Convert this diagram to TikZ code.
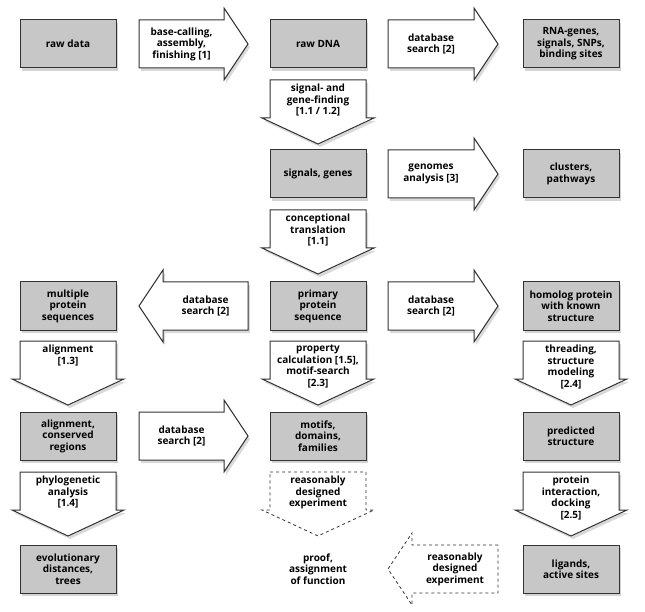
\documentclass[tikz,border=0pt]{standalone}
\usepackage{fontspec}
\setmainfont{Open Sans}
\usetikzlibrary{shadows}
\tikzset{
  box/.style={draw=black!80,line width=1pt,fill=black!22,minimum width=96pt,minimum height=48pt,
    align=center,font=\fontsize{10}{11.5}\selectfont\bfseries,
    drop shadow={opacity=0.35,shadow xshift=2pt,shadow yshift=-3pt}},
  arr/.style={draw=black!80,line width=1pt,fill=white,line join=miter,
    drop shadow={opacity=0.3,shadow xshift=2pt,shadow yshift=-3pt}},
  dasharr/.style={draw=black!80,line width=0.8pt,dashed,fill=white},
  lbl/.style={align=center,font=\fontsize{10}{11.5}\selectfont\bfseries,inner sep=0pt},
}
% right arrow: from x1 to tip x2 at height y
\newcommand{\rarr}[6]{%
  \path[#5] (#1,#3-24) -- (#2-24,#3-24) -- (#2-24,#3-36) -- (#2,#3) -- (#2-24,#3+36)
    -- (#2-24,#3+24) -- (#1,#3+24) -- cycle;
  \node[lbl] (#6) at ({(#1+#2-24)/2},#3) {#4};}
% left arrow: tip at x1, tail at x2
\newcommand{\larr}[6]{%
  \path[#5] (#2,#3-24) -- (#1+24,#3-24) -- (#1+24,#3-36) -- (#1,#3) -- (#1+24,#3+36)
    -- (#1+24,#3+24) -- (#2,#3+24) -- cycle;
  \node[lbl] (#6) at ({(#1+24+#2)/2},#3) {#4};}
% down arrow: column centre x, top y1, tip y2
\newcommand{\darr}[6]{%
  \path[#5] (#1-48,#2) -- (#1+48,#2) -- (#1+48,#3-26) -- (#1+56,#3-26) -- (#1,#3)
    -- (#1-56,#3-26) -- (#1-48,#3-26) -- cycle;
  \node[lbl,anchor=north] (#6) at (#1,#2+4) {#4};}
\begin{document}
\begin{tikzpicture}[x=1pt,y=-1pt]
\useasboundingbox (0,0) rectangle (645,612);
% boxes
\node[box] (rawdata) at (68,44) {raw data};
\node[box] (rawdna) at (318,44) {raw DNA};
\node[box] (rnagenes) at (571,44) {RNA-genes,\\signals, SNPs,\\binding sites};
\node[box] (signals) at (318,174) {signals, genes};
\node[box] (clusters) at (571,174) {clusters,\\pathways};
\node[box] (multiple) at (68,306) {multiple\\protein\\sequences};
\node[box] (primary) at (318,306) {primary\\protein\\sequence};
\node[box] (homolog) at (571,306) {homolog protein\\with known\\structure};
\node[box] (alignment) at (68,436) {alignment,\\conserved\\regions};
\node[box] (motifs) at (318,436) {motifs,\\domains,\\families};
\node[box] (predicted) at (571,436) {predicted\\structure};
\node[box] (evol) at (68,569) {evolutionary\\distances,\\trees};
\node[lbl] (proof) at (318,569) {proof,\\assignment\\of function};
\node[box] (ligands) at (571,569) {ligands,\\active sites};
% horizontal arrows
\rarr{139}{248}{44}{base-calling,\\assembly,\\finishing [1]}{arr}{a1}
\rarr{388}{498}{44}{database\\search [2]}{arr}{a2}
\rarr{388}{498}{174}{genomes\\analysis [3]}{arr}{a3}
\larr{139}{248}{306}{database\\search [2]}{arr}{a4}
\rarr{388}{498}{306}{database\\search [2]}{arr}{a5}
\rarr{139}{248}{436}{database\\search [2]}{arr}{a6}
\larr{388}{498}{569}{reasonably\\designed\\experiment}{dasharr}{a7}
% vertical arrows
\darr{318}{80}{144}{signal- and\\gene-finding\\{}[1.1 / 1.2]}{arr}{d1}
\darr{318}{210}{274}{conceptional\\translation\\{}[1.1]}{arr}{d2}
\darr{68}{341}{405}{alignment\\{}[1.3]}{arr}{d3}
\darr{318}{341}{405}{property\\calculation [1.5],\\motif-search\\{}[2.3]}{arr}{d4}
\darr{571}{341}{405}{threading,\\structure\\modeling\\{}[2.4]}{arr}{d5}
\darr{68}{472}{536}{phylogenetic\\analysis\\{}[1.4]}{arr}{d6}
\darr{318}{472}{536}{reasonably\\designed\\experiment}{dasharr}{d7}
\darr{571}{472}{536}{protein\\interaction,\\docking\\{}[2.5]}{arr}{d8}
\end{tikzpicture}
\end{document}
